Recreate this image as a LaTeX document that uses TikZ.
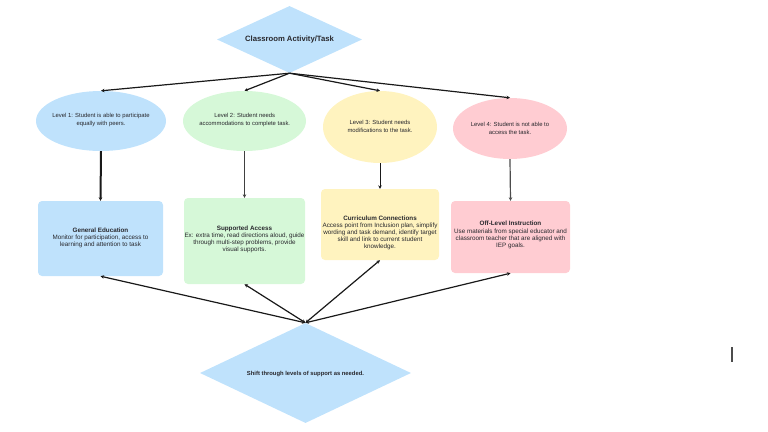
\documentclass[tikz,border=0pt]{standalone}
\usepackage{fontspec}
\setmainfont{Liberation Sans}
\usetikzlibrary{shapes.geometric,arrows.meta}
\definecolor{cblue}{RGB}{191,226,252}
\definecolor{cgreen}{RGB}{214,248,216}
\definecolor{cyellow}{RGB}{255,243,191}
\definecolor{cpink}{RGB}{255,204,210}
\definecolor{ink}{RGB}{40,40,45}
\begin{document}
\begin{tikzpicture}[x=1pt,y=-1pt,
  dia/.style={diamond, fill=cblue, inner sep=0pt, draw=none},
  lvl/.style={ellipse, inner sep=0pt, draw=none},
  box/.style={rectangle, rounded corners=4pt, inner sep=0pt, draw=none},
  etxt/.style={font=\fontsize{5.9}{8}\selectfont, align=center, text=ink, inner sep=0pt},
  btxt/.style={font=\fontsize{6.3}{7.1}\selectfont, align=center, text=ink, inner sep=0pt},
  conn/.style={line width=1.2pt, draw=black!90, -{Stealth[length=3.5pt,width=3.5pt]}},
  both/.style={line width=1.2pt, draw=black!90, {Stealth[length=3.5pt,width=3.5pt]}-{Stealth[length=3.5pt,width=3.5pt]}}
]
\useasboundingbox (0,0) rectangle (768,431);

% top diamond
\node[dia, minimum width=145pt, minimum height=67pt] (top) at (289.5,39.5) {};
\node[font=\fontsize{7.7}{8}\selectfont\bfseries, text=ink, inner sep=0pt] (toptxt) at (289.5,40) {Classroom Activity/Task};

% level ellipses
\node[lvl, fill=cblue, minimum width=130pt, minimum height=60pt] (e1) at (101,121) {};
\node[lvl, fill=cgreen, minimum width=123pt, minimum height=60pt] (e2) at (244.5,121) {};
\node[lvl, fill=cyellow, minimum width=114pt, minimum height=72pt] (e3) at (380,127) {};
\node[lvl, fill=cpink, minimum width=114pt, minimum height=61pt] (e4) at (510,128.5) {};

\node[etxt] (e1t) at (101,120) {Level 1: Student is able to participate\\equally with peers.};
\node[etxt] (e2t) at (244.7,120) {Level 2: Student needs\\accommodations to complete task.};
\node[etxt] (e3t) at (380,126) {Level 3: Student needs\\modifications to the task.};
\node[etxt] (e4t) at (510,128) {Level 4: Student is not able to\\access the task.};

% boxes
\node[box, fill=cblue, minimum width=125pt, minimum height=75pt] (b1) at (100.5,238.5) {};
\node[box, fill=cgreen, minimum width=121pt, minimum height=86pt] (b2) at (244.5,241) {};
\node[box, fill=cyellow, minimum width=118pt, minimum height=71pt] (b3) at (380,224.5) {};
\node[box, fill=cpink, minimum width=119pt, minimum height=72pt] (b4) at (510.5,237) {};

\node[btxt] (b1t) at (100.5,238) {\textbf{General Education}\\Monitor for participation, access to\\learning and attention to task};
\node[btxt] (b2t) at (244.5,239.5) {\textbf{Supported Access}\\Ex: extra time, read directions aloud, guide\\through multi-step problems, provide\\visual supports.};
\node[btxt] (b3t) at (380,233) {\textbf{Curriculum Connections}\\Access point from Inclusion plan, simplify\\wording and task demand, identify target\\skill and link to current student\\knowledge.};
\node[btxt] (b4t) at (510.5,235) {\textbf{Off-Level Instruction}\\Use materials from special educator and\\classroom teacher that are aligned with\\IEP goals.};

% bottom diamond
\node[dia, minimum width=211pt, minimum height=100pt] (bot) at (305.5,373) {};
\node[font=\fontsize{5.85}{7}\selectfont\bfseries, text=ink, inner sep=0pt] (bottxt) at (305.5,373.5) {Shift through levels of support as needed.};

% connectors top
\draw[conn] (top.south) -- (e1.north);
\draw[conn] (top.south) -- (e2.north);
\draw[conn] (top.south) -- (e3.north);
\draw[conn] (top.south) -- (e4.north);

% vertical connectors
\draw[conn, line width=2pt] (e1.south) -- (b1.north);
\draw[conn, draw=black!75] (e2.south) -- (b2.north);
\draw[conn, line width=1pt] (e3.south) -- (b3.north);
\draw[conn, draw=black!70] (e4.south) -- (b4.north);

% bottom connectors
\draw[both] (bot.north) -- (b1.south);
\draw[both] (bot.north) -- (b2.south);
\draw[both] (bot.north) -- (b3.south);
\draw[both] (bot.north) -- (b4.south);

% stray cursor mark
\coordinate (c1) at (732,347);
\coordinate (c2) at (732,362);
\draw[line width=1.3pt, draw=black!70] (c1) -- (c2);
\end{tikzpicture}
\end{document}
